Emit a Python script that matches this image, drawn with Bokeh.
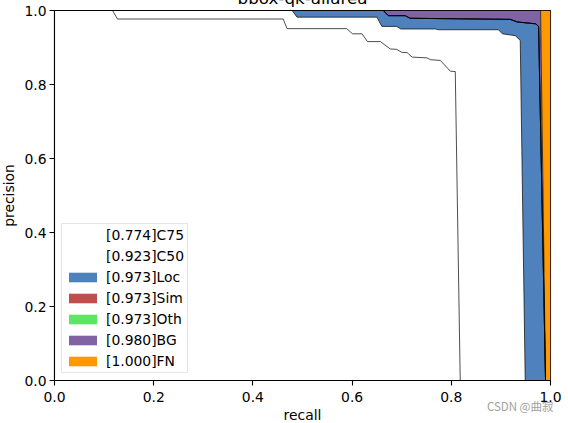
from bokeh.plotting import figure
from bokeh.models import Legend, LegendItem, Title, FixedTicker, PrintfTickFormatter, Range1d
from bokeh.embed import file_html
from bokeh.resources import INLINE

title_text = "bbox-qk-allarea"
watermark_text = "CSDN @曲寂"
types = ["C75", "C50", "Loc", "Sim", "Oth", "BG", "FN"]
ap_values = [0.774, 0.923, 0.973, 0.973, 0.973, 0.980, 1.000]
fill_colors = ["#ffffff", "#ffffff", "#4f82bd", "#bf4f4d", "#5ce661", "#8063a3", "#ff9900"]
tick_values = [0.0, 0.2, 0.4, 0.6, 0.8, 1.0]

recall_base = [0.0, 1.0]
prec_base = [0.0, 0.0]

recall_c75 = [0.0, 0.117, 0.127, 0.461, 0.469, 0.589, 0.601, 0.620, 0.631, 0.657, 0.677, 0.690,
              0.700, 0.711, 0.721, 0.751, 0.758, 0.778, 0.798, 0.808, 0.818, 1.0]
prec_c75 = [1.0, 1.0, 0.977, 0.977, 0.951, 0.951, 0.937, 0.937, 0.916, 0.916, 0.896, 0.895,
            0.887, 0.886, 0.874, 0.872, 0.867, 0.865, 0.836, 0.835, 0.0, 0.0]

recall_c50 = [0.0, 0.479, 0.489, 0.650, 0.660, 0.690, 0.698, 0.768, 0.774, 0.895, 0.903, 0.929,
              0.939, 0.949, 1.0]
prec_c50 = [1.0, 1.0, 0.982, 0.982, 0.957, 0.957, 0.950, 0.950, 0.948, 0.948, 0.937, 0.932,
            0.919, 0.0, 0.0]

recall_loc = [0.0, 0.663, 0.673, 0.707, 0.717, 0.919, 0.933, 0.970, 0.976, 0.990, 1.0]
prec_loc = [1.0, 1.0, 0.986, 0.986, 0.979, 0.976, 0.969, 0.964, 0.957, 0.0, 0.0]

recall_sim = [0.0, 0.663, 0.673, 0.707, 0.717, 0.919, 0.933, 0.970, 0.976, 0.990, 1.0]
prec_sim = [1.0, 1.0, 0.986, 0.986, 0.979, 0.976, 0.969, 0.964, 0.957, 0.0, 0.0]

recall_oth = [0.0, 0.663, 0.673, 0.707, 0.717, 0.919, 0.933, 0.970, 0.976, 0.990, 1.0]
prec_oth = [1.0, 1.0, 0.986, 0.986, 0.979, 0.976, 0.969, 0.964, 0.957, 0.0, 0.0]

recall_bg = [0.0, 0.980, 0.990, 1.0]
prec_bg = [1.0, 1.0, 0.0, 0.0]

recall_fn = [0.0, 1.0]
prec_fn = [1.0, 1.0]

curves_r = [recall_base, recall_c75, recall_c50, recall_loc, recall_sim, recall_oth, recall_bg, recall_fn]
curves_p = [prec_base, prec_c75, prec_c50, prec_loc, prec_sim, prec_oth, prec_bg, prec_fn]

FONT = "DejaVu Sans"

p = figure(width=570, height=442, x_range=Range1d(0, 1), y_range=Range1d(0, 1),
           output_backend="svg", toolbar_location=None,
           min_border_left=55, min_border_right=18, min_border_top=0, min_border_bottom=42,
           styles={"margin-top": "-17px", "margin-left": "-2px"})
p.xgrid.visible = False
p.ygrid.visible = False
p.outline_line_color = "black"
p.outline_line_width = 1.1
p.background_fill_color = "white"
p.border_fill_color = "white"

p.title.text = title_text
p.title.align = "center"
p.title.vertical_align = "bottom"
p.title.standoff = 5
p.title.text_font = FONT
p.title.text_font_size = "16.7px"
p.title.text_font_style = "normal"
p.title.text_color = "black"

items = []
for k in range(len(types)):
    lo_r, lo_p = curves_r[k], curves_p[k]
    hi_r, hi_p = curves_r[k + 1], curves_p[k + 1]
    xs = list(hi_r) + list(reversed(lo_r))
    ys = list(hi_p) + list(reversed(lo_p))
    r = p.patch(xs, ys, fill_color=fill_colors[k], line_color=None)
    items.append(LegendItem(label=f"[{ap_values[k]:.3f}]{types[k]}", renderers=[r]))

for k in range(1, len(curves_r)):
    p.line(curves_r[k], curves_p[k], line_color="black", line_width=0.7)

for ax, lab in ((p.xaxis[0], "recall"), (p.yaxis[0], "precision")):
    ax.ticker = FixedTicker(ticks=tick_values, minor_ticks=[])
    ax.formatter = PrintfTickFormatter(format="%.1f")
    ax.axis_label = lab
    ax.axis_label_text_font = FONT
    ax.axis_label_text_font_size = "13.9px"
    ax.axis_label_text_font_style = "normal"
    ax.axis_label_text_color = "black"
    ax.major_label_text_font = FONT
    ax.major_label_text_font_size = "13.9px"
    ax.major_label_text_color = "black"
    ax.major_tick_out = 5
    ax.major_tick_in = 0
    ax.minor_tick_out = 0
    ax.minor_tick_in = 0
    ax.major_tick_line_color = "black"
    ax.major_tick_line_width = 1.1
    ax.axis_line_color = "black"
    ax.axis_line_width = 1.1

p.xaxis[0].major_label_standoff = 6
p.xaxis[0].axis_label_standoff = 2
p.yaxis[0].major_label_standoff = 3
p.yaxis[0].axis_label_standoff = 4

legend = Legend(items=items, location=(7, 7), margin=0, padding=3,
                spacing=5, label_height=16, glyph_height=12, glyph_width=35,
                label_standoff=6, label_text_font=FONT, label_text_font_size="13.9px",
                label_text_color="black",
                background_fill_color="white", background_fill_alpha=0.8,
                border_line_color="#cccccc", border_line_width=1)
p.add_layout(legend)

wm = Title(text=watermark_text, align="right", vertical_align="top", offset=-3, standoff=-55,
           text_font="Noto Sans CJK SC", text_font_size="11.5px", text_font_style="normal",
           text_color="#a0a0a0")
p.add_layout(wm, "below")

open("out.html", "w").write(file_html(p, INLINE))
